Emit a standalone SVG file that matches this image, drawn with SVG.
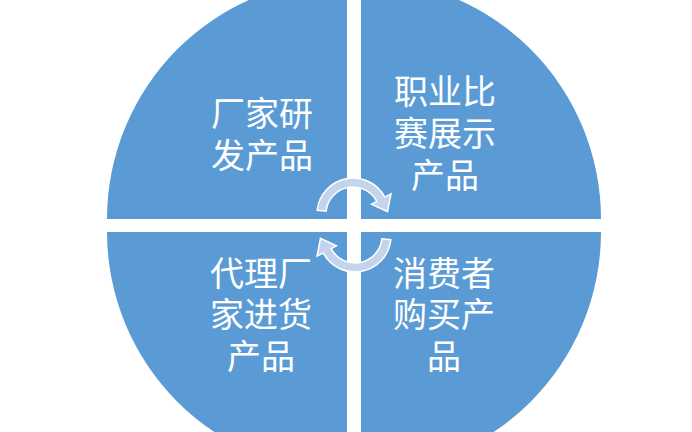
<svg xmlns="http://www.w3.org/2000/svg" width="692" height="432" viewBox="0 0 692 432">
<style>
.q{fill:#5B9BD5;}
.t{font-family:"Noto Sans CJK SC","Noto Sans CJK JP",sans-serif;font-size:34px;fill:#FFFFFF;text-anchor:middle;}
.arr{fill:#C3D4EC;stroke:#FFFFFF;stroke-width:1.5;stroke-linejoin:miter;}
</style>
<rect width="692" height="432" fill="#FFFFFF"/>
<g id="node-tl">
<path class="q" d="M347,219 L107,219 A240,240 0 0,1 347,-21 Z"/>
<text class="t" x="262" y="126">厂家研</text>
<text class="t" x="262" y="168">发产品</text>
</g>
<g id="node-tr">
<path class="q" d="M361,219 L361,-21 A240,240 0 0,1 601,219 Z"/>
<text class="t" x="445" y="104">职业比</text>
<text class="t" x="445" y="146">赛展示</text>
<text class="t" x="445" y="188">产品</text>
</g>
<g id="node-br">
<path class="q" d="M361,232 L601,232 A240,240 0 0,1 361,472 Z"/>
<text class="t" x="444" y="286">消费者</text>
<text class="t" x="444" y="327">购买产</text>
<text class="t" x="444" y="369">品</text>
</g>
<g id="node-bl">
<path class="q" d="M347,232 L347,472 A240,240 0 0,1 107,232 Z"/>
<text class="t" x="261" y="286">代理厂</text>
<text class="t" x="261" y="327">家进货</text>
<text class="t" x="261" y="369">产品</text>
</g>
<g id="connectors">
<path class="arr" d="M317.2,210.24 A36,36 0 0,1 384.79,197.10 L390.96,193.81 L387.5,211.6 L371.54,204.14 L376.84,201.32 A27,27 0 0,0 326.15,211.18 Z"/>
<path class="arr" d="M390.8,239.76 A36,36 0 0,1 323.21,252.90 L317.04,256.19 L320.5,238.4 L336.46,245.86 L331.16,248.68 A27,27 0 0,0 381.85,238.82 Z"/>
</g>
</svg>
